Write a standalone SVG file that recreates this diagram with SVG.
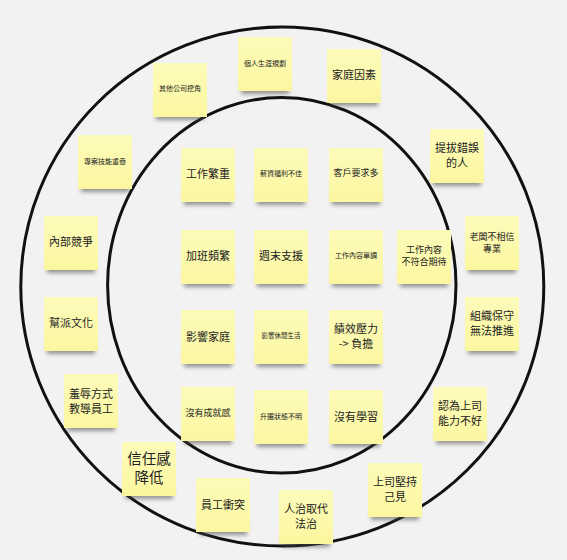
<svg xmlns="http://www.w3.org/2000/svg" width="567" height="560" viewBox="0 0 567 560">
<defs>
<linearGradient id="ng" x1="0" y1="0" x2="0" y2="1"><stop offset="0" stop-color="#fdfbbb"/><stop offset="1" stop-color="#fbf79f"/></linearGradient>
<filter id="bl" x="-30%" y="-100%" width="160%" height="300%"><feGaussianBlur stdDeviation="2.2"/></filter>
<style>
.sh{fill:#444;opacity:.55;filter:url(#bl)}
.note{fill:url(#ng)}
text{font-family:"Noto Sans CJK TC","Noto Sans CJK SC",sans-serif;fill:#222;text-anchor:middle;dominant-baseline:central}
.s{font-size:7px}.m{font-size:9px}.l{font-size:11px}.xl{font-size:14.5px}
.ring{fill:none;stroke:#111;stroke-width:3}
</style>
</defs>
<rect width="567" height="560" fill="#f2f2f2"/>
<g id="rings">
<ellipse class="ring" cx="282.3" cy="286.5" rx="261.5" ry="259.5"/>
<ellipse class="ring" cx="281.8" cy="285.3" rx="174.2" ry="187.8"/>
</g>
<g id="n1"><rect class="sh" x="156" y="109" width="48" height="11"/><rect class="note" x="153" y="63" width="54" height="54"/><text class="s" x="180" y="88">其他公司挖角</text></g>
<g id="n2"><rect class="sh" x="241" y="83" width="48" height="11"/><rect class="note" x="238" y="37" width="54" height="54"/><text class="s" x="265" y="62.5">個人生涯規劃</text></g>
<g id="n3"><rect class="sh" x="330" y="95" width="48" height="11"/><rect class="note" x="327" y="49" width="54" height="54"/><text class="l" x="354" y="74">家庭因素</text></g>
<g id="n4"><rect class="sh" x="81" y="181" width="48" height="11"/><rect class="note" x="78" y="135" width="54" height="54"/><text class="s" x="105" y="161">專案技能重疊</text></g>
<g id="n5"><rect class="sh" x="433" y="175" width="48" height="11"/><rect class="note" x="430" y="129" width="54" height="54"/><text class="l" x="457" y="147">提拔錯誤</text><text class="l" x="457" y="162">的人</text></g>
<g id="n6"><rect class="sh" x="184" y="194" width="48" height="11"/><rect class="note" x="181" y="148" width="54" height="54"/><text class="l" x="208" y="172.5">工作繁重</text></g>
<g id="n7"><rect class="sh" x="257" y="194" width="48" height="11"/><rect class="note" x="254" y="148" width="54" height="54"/><text class="s" x="281" y="173">薪資福利不佳</text></g>
<g id="n8"><rect class="sh" x="332" y="194" width="48" height="11"/><rect class="note" x="329" y="148" width="54" height="54"/><text class="m" x="356" y="172.5">客戶要求多</text></g>
<g id="n9"><rect class="sh" x="47" y="262" width="48" height="11"/><rect class="note" x="44" y="216" width="54" height="54"/><text class="l" x="71" y="241">內部競爭</text></g>
<g id="n10"><rect class="sh" x="184" y="276" width="48" height="11"/><rect class="note" x="181" y="230" width="54" height="54"/><text class="l" x="208" y="255">加班頻繁</text></g>
<g id="n11"><rect class="sh" x="257" y="276" width="48" height="11"/><rect class="note" x="254" y="230" width="54" height="54"/><text class="l" x="281" y="255">週末支援</text></g>
<g id="n12"><rect class="sh" x="332" y="276" width="48" height="11"/><rect class="note" x="329" y="230" width="54" height="54"/><text class="s" x="356" y="255">工作內容單調</text></g>
<g id="n13"><rect class="sh" x="400" y="276" width="48" height="11"/><rect class="note" x="397" y="230" width="54" height="54"/><text class="m" x="424" y="249">工作內容</text><text class="m" x="424" y="261">不符合期待</text></g>
<g id="n14"><rect class="sh" x="468" y="262" width="48" height="11"/><rect class="note" x="465" y="216" width="54" height="54"/><text class="m" x="492" y="236">老闆不相信</text><text class="m" x="492" y="248">專業</text></g>
<g id="n15"><rect class="sh" x="47" y="343" width="48" height="11"/><rect class="note" x="44" y="297" width="54" height="54"/><text class="l" x="71" y="322">幫派文化</text></g>
<g id="n16"><rect class="sh" x="184" y="356" width="48" height="11"/><rect class="note" x="181" y="310" width="54" height="54"/><text class="l" x="208" y="335.5">影響家庭</text></g>
<g id="n17"><rect class="sh" x="257" y="356" width="48" height="11"/><rect class="note" x="254" y="310" width="54" height="54"/><text class="s" x="281" y="335" style="font-size:6.5px">影響休閒生活</text></g>
<g id="n18"><rect class="sh" x="332" y="356" width="48" height="11"/><rect class="note" x="329" y="310" width="54" height="54"/><text class="l" x="356" y="328">績效壓力</text><text class="l" x="356" y="343">-&gt; 負擔</text></g>
<g id="n19"><rect class="sh" x="468" y="343" width="48" height="11"/><rect class="note" x="465" y="297" width="54" height="54"/><text class="l" x="492" y="314.5">組織保守</text><text class="l" x="492" y="329.5">無法推進</text></g>
<g id="n20"><rect class="sh" x="67" y="420" width="48" height="11"/><rect class="note" x="64" y="374" width="54" height="54"/><text class="l" x="91" y="392.5">羞辱方式</text><text class="l" x="91" y="407.5">教導員工</text></g>
<g id="n21"><rect class="sh" x="184" y="433" width="48" height="11"/><rect class="note" x="181" y="387" width="54" height="54"/><text class="m" x="208" y="412">沒有成就感</text></g>
<g id="n22"><rect class="sh" x="257" y="436" width="48" height="11"/><rect class="note" x="254" y="390" width="54" height="54"/><text class="s" x="281" y="416">升遷狀態不明</text></g>
<g id="n23"><rect class="sh" x="332" y="436" width="48" height="11"/><rect class="note" x="329" y="390" width="54" height="54"/><text class="l" x="356" y="415.5">沒有學習</text></g>
<g id="n24"><rect class="sh" x="436" y="433" width="48" height="11"/><rect class="note" x="433" y="387" width="54" height="54"/><text class="l" x="460" y="405">認為上司</text><text class="l" x="460" y="420">能力不好</text></g>
<g id="n25"><rect class="sh" x="125" y="488" width="48" height="11"/><rect class="note" x="122" y="442" width="54" height="54"/><text class="xl" x="149" y="457.5">信任感</text><text class="xl" x="149" y="476.5">降低</text></g>
<g id="n26"><rect class="sh" x="199" y="524" width="48" height="11"/><rect class="note" x="196" y="478" width="54" height="54"/><text class="l" x="223" y="503.5">員工衝突</text></g>
<g id="n27"><rect class="sh" x="282" y="536" width="48" height="11"/><rect class="note" x="279" y="490" width="54" height="54"/><text class="l" x="306" y="507.5">人治取代</text><text class="l" x="306" y="522.5">法治</text></g>
<g id="n28"><rect class="sh" x="371" y="509" width="48" height="11"/><rect class="note" x="368" y="463" width="54" height="54"/><text class="l" x="395" y="481">上司堅持</text><text class="l" x="395" y="496">己見</text></g>
</svg>
